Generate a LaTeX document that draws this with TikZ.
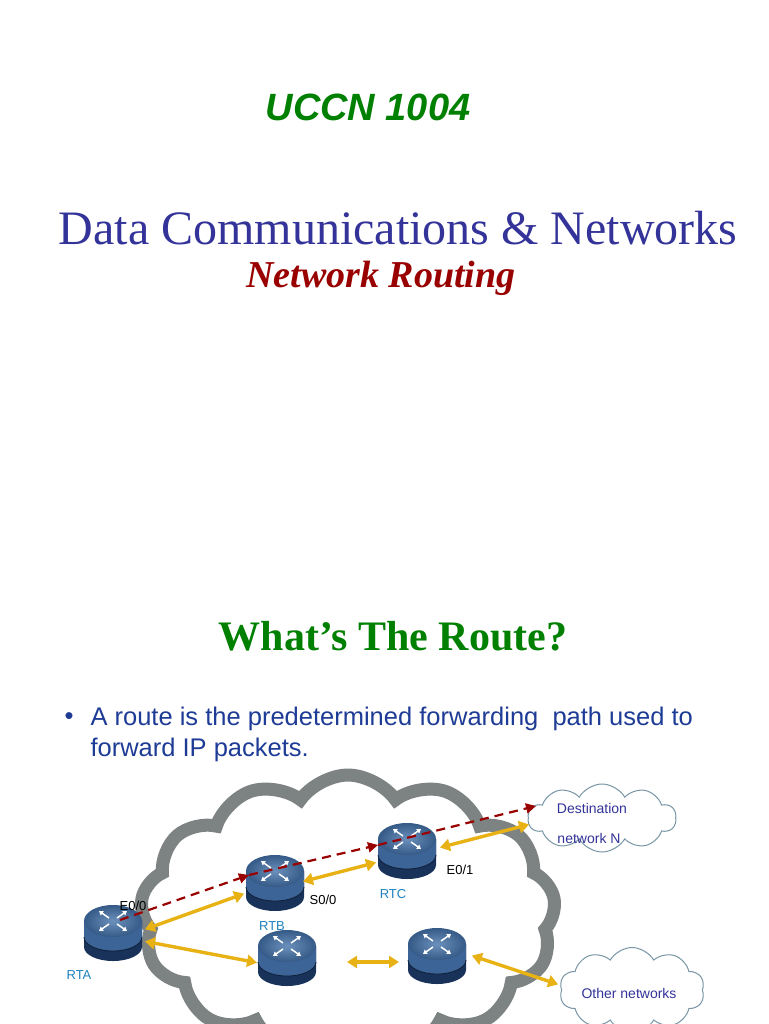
\documentclass[tikz,border=0pt]{standalone}
\usepackage{fontspec}
\setmainfont{Liberation Serif}
\setsansfont{Liberation Sans}
\usetikzlibrary{arrows.meta,shapes.symbols}
\definecolor{tgreen}{RGB}{0,128,0}
\definecolor{tblue}{RGB}{51,51,153}
\definecolor{tred}{RGB}{153,0,0}
\definecolor{bblue}{RGB}{30,60,150}
\definecolor{rlab}{RGB}{30,130,190}
\definecolor{ylw}{RGB}{232,178,20}
\definecolor{rdark}{RGB}{25,50,90}
\definecolor{rmid}{RGB}{60,100,150}
\definecolor{rtop}{RGB}{80,125,175}
\definecolor{cgray}{RGB}{125,130,130}
\definecolor{ccloud}{RGB}{120,150,165}
\tikzset{
  link/.style={draw=ylw,line width=3.4pt,{Triangle[length=10pt,width=12pt]}-{Triangle[length=10pt,width=12pt]},shorten <=2pt,shorten >=2pt},
  route/.style={draw=tred,line width=2.2pt,dash pattern=on 9pt off 6pt,-{Triangle[length=10pt,width=10pt]}},
  rlabel/.style={font=\sffamily\fontsize{13}{15}\selectfont,text=rlab},
  ilabel/.style={font=\sffamily\fontsize{13}{15}\selectfont,text=black},
  clabel/.style={font=\sffamily\fontsize{14}{16}\selectfont,text=tblue},
  pics/router/.style={code={
    \fill[rdark] (-29,-14) -- (-29,12) arc[start angle=180,end angle=0,x radius=29,y radius=14] -- (29,-14) -- cycle;
    \fill[rmid] (-29,-14) -- (-29,2) arc[start angle=180,end angle=0,x radius=29,y radius=14] -- (29,-14) -- cycle;
    \draw[rdark!60!black,line width=0.8pt] (-29,2) arc[start angle=180,end angle=0,x radius=29,y radius=14];
    \shade[inner color=rtop!85!white,outer color=rmid!90!black] (0,-14) ellipse[x radius=29,y radius=16];
    \begin{scope}[white,line width=1.5pt,-{Triangle[length=4pt,width=5pt]}]
      \draw (-4,-17) -- (-14,-24);
      \draw (4,-17) -- (14,-24);
      \draw (4,-11) -- (14,-4);
      \draw (-4,-11) -- (-14,-4);
    \end{scope}
  }}
}
\begin{document}
\begin{tikzpicture}[x=1pt,y=-1pt]
\useasboundingbox (0,0) rectangle (768,1024);
\fill[white] (0,0) rectangle (768,1024);
\node[font=\sffamily\bfseries\itshape\fontsize{38}{44}\selectfont,text=tgreen] (code) at (368,107) {UCCN 1004};
\node[font=\fontsize{48}{56}\selectfont,text=tblue] (title) at (398,228) {Data Communications \& Networks};
\node[font=\itshape\bfseries\fontsize{38}{44}\selectfont,text=tred] (sub) at (381,278) {Network Routing};
\node[font=\bfseries\fontsize{42}{48}\selectfont,text=tgreen] (q) at (393,636) {What’s The Route?};
\node[font=\sffamily\fontsize{25.5}{31}\selectfont,text=bblue,anchor=west,align=left] (txt) at (87,734) {A route is the predetermined forwarding\ \ path used to\\forward IP packets.};
\node[font=\sffamily\fontsize{25.5}{31}\selectfont,text=bblue] (bul) at (69,719) {•};
% big cloud
\begin{scope}
\clip (0,760) rectangle (768,1024);
\node[cloud,cloud puffs=13,cloud puff arc=110,aspect=1.55,minimum width=415,minimum height=280,draw=cgray,line width=13pt,fill=white] (cl) at (348,915) {};
\end{scope}
\node[cloud,cloud puffs=10,cloud puff arc=120,aspect=2.2,minimum width=148,minimum height=68,draw=ccloud,line width=1pt,fill=white] (dest) at (602,818) {};
\node[clabel] at (592,808) {Destination};
\node[clabel] at (589,838) {network N};
\begin{scope}
\clip (0,760) rectangle (768,1024);
\node[cloud,cloud puffs=10,cloud puff arc=120,aspect=2.0,minimum width=145,minimum height=85,draw=ccloud,line width=1pt,fill=white] (oth) at (632,990) {};
\end{scope}
\node[clabel] at (629,993) {Other networks};
% routers
\pic at (113,935) {router};
\pic at (275,885) {router};
\pic at (407,853) {router};
\pic at (287,960) {router};
\pic at (437,958) {router};
\coordinate (rta) at (113,935);
\coordinate (rtb) at (275,885);
\coordinate (rtc) at (407,853);
\coordinate (r4) at (287,960);
\coordinate (r5) at (437,958);
\node[rlabel] at (79,975) {RTA};
\node[rlabel] at (272,926) {RTB};
\node[rlabel] at (393,894) {RTC};
\node[ilabel] at (133,906) {E0/0};
\node[ilabel] at (323,900) {S0/0};
\node[ilabel] at (460,870) {E0/1};
% yellow links
\coordinate (a1) at (143,930); \coordinate (b1) at (246,893);
\coordinate (a2) at (143,941); \coordinate (b2) at (259,963);
\coordinate (a3) at (301,882); \coordinate (b3) at (378,862);
\coordinate (a4) at (438,848); \coordinate (b4) at (531,824);
\coordinate (a5) at (345,962); \coordinate (b5) at (401,962);
\coordinate (a6) at (470,955); \coordinate (b6) at (560,985);
\draw[link] (a1) -- (b1);
\draw[link] (a2) -- (b2);
\draw[link] (a3) -- (b3);
\draw[link] (a4) -- (b4);
\draw[link] (a5) -- (b5);
\draw[link] (a6) -- (b6);
% red route
\coordinate (p0) at (120,920); \coordinate (p1) at (249,875);
\coordinate (p2) at (378,845); \coordinate (p3) at (536,806);
\draw[route] (p0) -- (p1);
\draw[route] (p1) -- (p2);
\draw[route] (p2) -- (p3);
\end{tikzpicture}
\end{document}
